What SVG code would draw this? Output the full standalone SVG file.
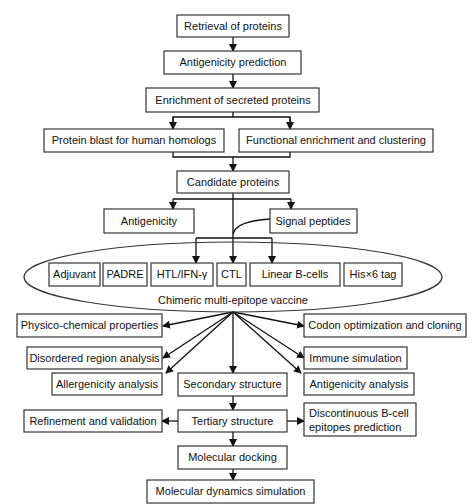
<svg xmlns="http://www.w3.org/2000/svg" width="474" height="504" viewBox="0 0 474 504">
<style>
.b{fill:#fff;stroke:#333;stroke-width:1.2}
.t{font-family:"Liberation Sans",Arial,sans-serif;font-size:11px;fill:#111;text-anchor:middle}
.l{font-family:"Liberation Sans",Arial,sans-serif;font-size:11px;fill:#111}
.c{fill:none;stroke:#111;stroke-width:1.3}
</style>
<defs>
<marker id="a" markerWidth="8" markerHeight="8" refX="7" refY="4" orient="auto" markerUnits="userSpaceOnUse">
<path d="M0,0 L8,4 L0,8 z" fill="#111"/>
</marker>
</defs>
<rect width="474" height="504" fill="#fff"/>
<g id="connectors">
<line class="c" x1="233" y1="37" x2="233" y2="51" marker-end="url(#a)"/>
<line class="c" x1="233" y1="74" x2="233" y2="88" marker-end="url(#a)"/>
<polyline class="c" points="233,112 233,117"/>
<polyline class="c" points="173,128 173,117 290,117 290,128"/>
<line class="c" x1="173" y1="117" x2="173" y2="129" marker-end="url(#a)"/>
<line class="c" x1="290" y1="117" x2="290" y2="129" marker-end="url(#a)"/>
<polyline class="c" points="173,152 173,157 290,157 290,152"/>
<line class="c" x1="233" y1="157" x2="233" y2="171" marker-end="url(#a)"/>
<polyline class="c" points="173,199 291,199"/>
<line class="c" x1="173" y1="199" x2="173" y2="209" marker-end="url(#a)"/>
<line class="c" x1="291" y1="199" x2="291" y2="209" marker-end="url(#a)"/>
<line class="c" x1="233" y1="193" x2="233" y2="263" marker-end="url(#a)"/>
<path class="c" d="M270,219 Q236,221 233,234"/>
<polyline class="c" points="196,238 272,238"/>
<line class="c" x1="196" y1="238" x2="196" y2="263" marker-end="url(#a)"/>
<line class="c" x1="272" y1="238" x2="272" y2="263" marker-end="url(#a)"/>
<line class="c" x1="233" y1="312" x2="163" y2="326" marker-end="url(#a)"/>
<line class="c" x1="233" y1="312" x2="304" y2="326" marker-end="url(#a)"/>
<line class="c" x1="233" y1="312" x2="163" y2="358" marker-end="url(#a)"/>
<line class="c" x1="233" y1="312" x2="304" y2="358" marker-end="url(#a)"/>
<line class="c" x1="233" y1="312" x2="166" y2="373" marker-end="url(#a)"/>
<line class="c" x1="233" y1="312" x2="233" y2="373" marker-end="url(#a)"/>
<line class="c" x1="233" y1="312" x2="301" y2="373" marker-end="url(#a)"/>
<line class="c" x1="233" y1="396" x2="233" y2="410" marker-end="url(#a)"/>
<line class="c" x1="178" y1="421" x2="162" y2="421" marker-end="url(#a)"/>
<line class="c" x1="287" y1="421" x2="304" y2="421" marker-end="url(#a)"/>
<line class="c" x1="233" y1="432" x2="233" y2="446" marker-end="url(#a)"/>
<line class="c" x1="233" y1="469" x2="233" y2="480" marker-end="url(#a)"/>
</g>
<g id="n1"><rect class="b" x="177" y="15" width="112" height="22"/><text class="t" x="233" y="30">Retrieval of proteins</text></g>
<g id="n2"><rect class="b" x="164" y="51" width="137" height="23"/><text class="t" x="233" y="66">Antigenicity prediction</text></g>
<g id="n3"><rect class="b" x="146" y="88" width="173" height="24"/><text class="t" x="233" y="104">Enrichment of secreted proteins</text></g>
<g id="n4"><rect class="b" x="44" y="129" width="180" height="23"/><text class="t" x="134" y="144">Protein blast for human homologs</text></g>
<g id="n5"><rect class="b" x="239" y="129" width="194" height="23"/><text class="t" x="336" y="144">Functional enrichment and clustering</text></g>
<g id="n6"><rect class="b" x="177" y="171" width="112" height="22"/><text class="t" x="233" y="186">Candidate proteins</text></g>
<g id="n7"><rect class="b" x="104" y="209" width="90" height="24"/><text class="t" x="149" y="225">Antigenicity</text></g>
<g id="n8"><rect class="b" x="270" y="209" width="87" height="24"/><text class="t" x="313" y="225">Signal peptides</text></g>
<g id="vaccine">
<ellipse cx="233" cy="277" rx="209" ry="35" fill="none" stroke="#333" stroke-width="1.2"/>
<rect class="b" x="49" y="263" width="51" height="23"/><text class="t" x="74.5" y="278">Adjuvant</text>
<rect class="b" x="103" y="263" width="44" height="23"/><text class="t" x="125" y="278">PADRE</text>
<rect class="b" x="151" y="263" width="62" height="23"/><text class="t" x="182" y="278">HTL/IFN-γ</text>
<rect class="b" x="217" y="263" width="29" height="23"/><text class="t" x="231.5" y="278">CTL</text>
<rect class="b" x="250" y="263" width="90" height="23"/><text class="t" x="295" y="278">Linear B-cells</text>
<rect class="b" x="344" y="263" width="58" height="23"/><text class="t" x="373" y="278">His×6 tag</text>
<text class="t" x="233" y="304">Chimeric multi-epitope vaccine</text>
</g>
<g id="n9"><rect class="b" x="17" y="314" width="145" height="23"/><text class="t" x="89.5" y="329">Physico-chemical properties</text></g>
<g id="n10"><rect class="b" x="304" y="314" width="162" height="23"/><text class="t" x="385" y="329">Codon optimization and cloning</text></g>
<g id="n11"><rect class="b" x="27" y="347" width="135" height="22"/><text class="t" x="94.5" y="362">Disordered region analysis</text></g>
<g id="n12"><rect class="b" x="304" y="347" width="103" height="22"/><text class="t" x="355.5" y="362">Immune simulation</text></g>
<g id="n13"><rect class="b" x="52" y="373" width="110" height="22"/><text class="t" x="107" y="388">Allergenicity analysis</text></g>
<g id="n14"><rect class="b" x="178" y="373" width="109" height="23"/><text class="t" x="232.5" y="388">Secondary structure</text></g>
<g id="n15"><rect class="b" x="304" y="373" width="110" height="22"/><text class="t" x="359" y="388">Antigenicity analysis</text></g>
<g id="n16"><rect class="b" x="24" y="410" width="138" height="22"/><text class="t" x="93" y="425">Refinement and validation</text></g>
<g id="n17"><rect class="b" x="178" y="410" width="109" height="22"/><text class="t" x="232.5" y="425">Tertiary structure</text></g>
<g id="n18"><rect class="b" x="304" y="403" width="112" height="33"/><text class="l" x="309" y="417">Discontinuous B-cell</text><text class="l" x="309" y="431">epitopes prediction</text></g>
<g id="n19"><rect class="b" x="178" y="446" width="109" height="23"/><text class="t" x="232.5" y="461">Molecular docking</text></g>
<g id="n20"><rect class="b" x="147" y="480" width="167" height="23"/><text class="t" x="230.5" y="495">Molecular dynamics simulation</text></g>
</svg>
